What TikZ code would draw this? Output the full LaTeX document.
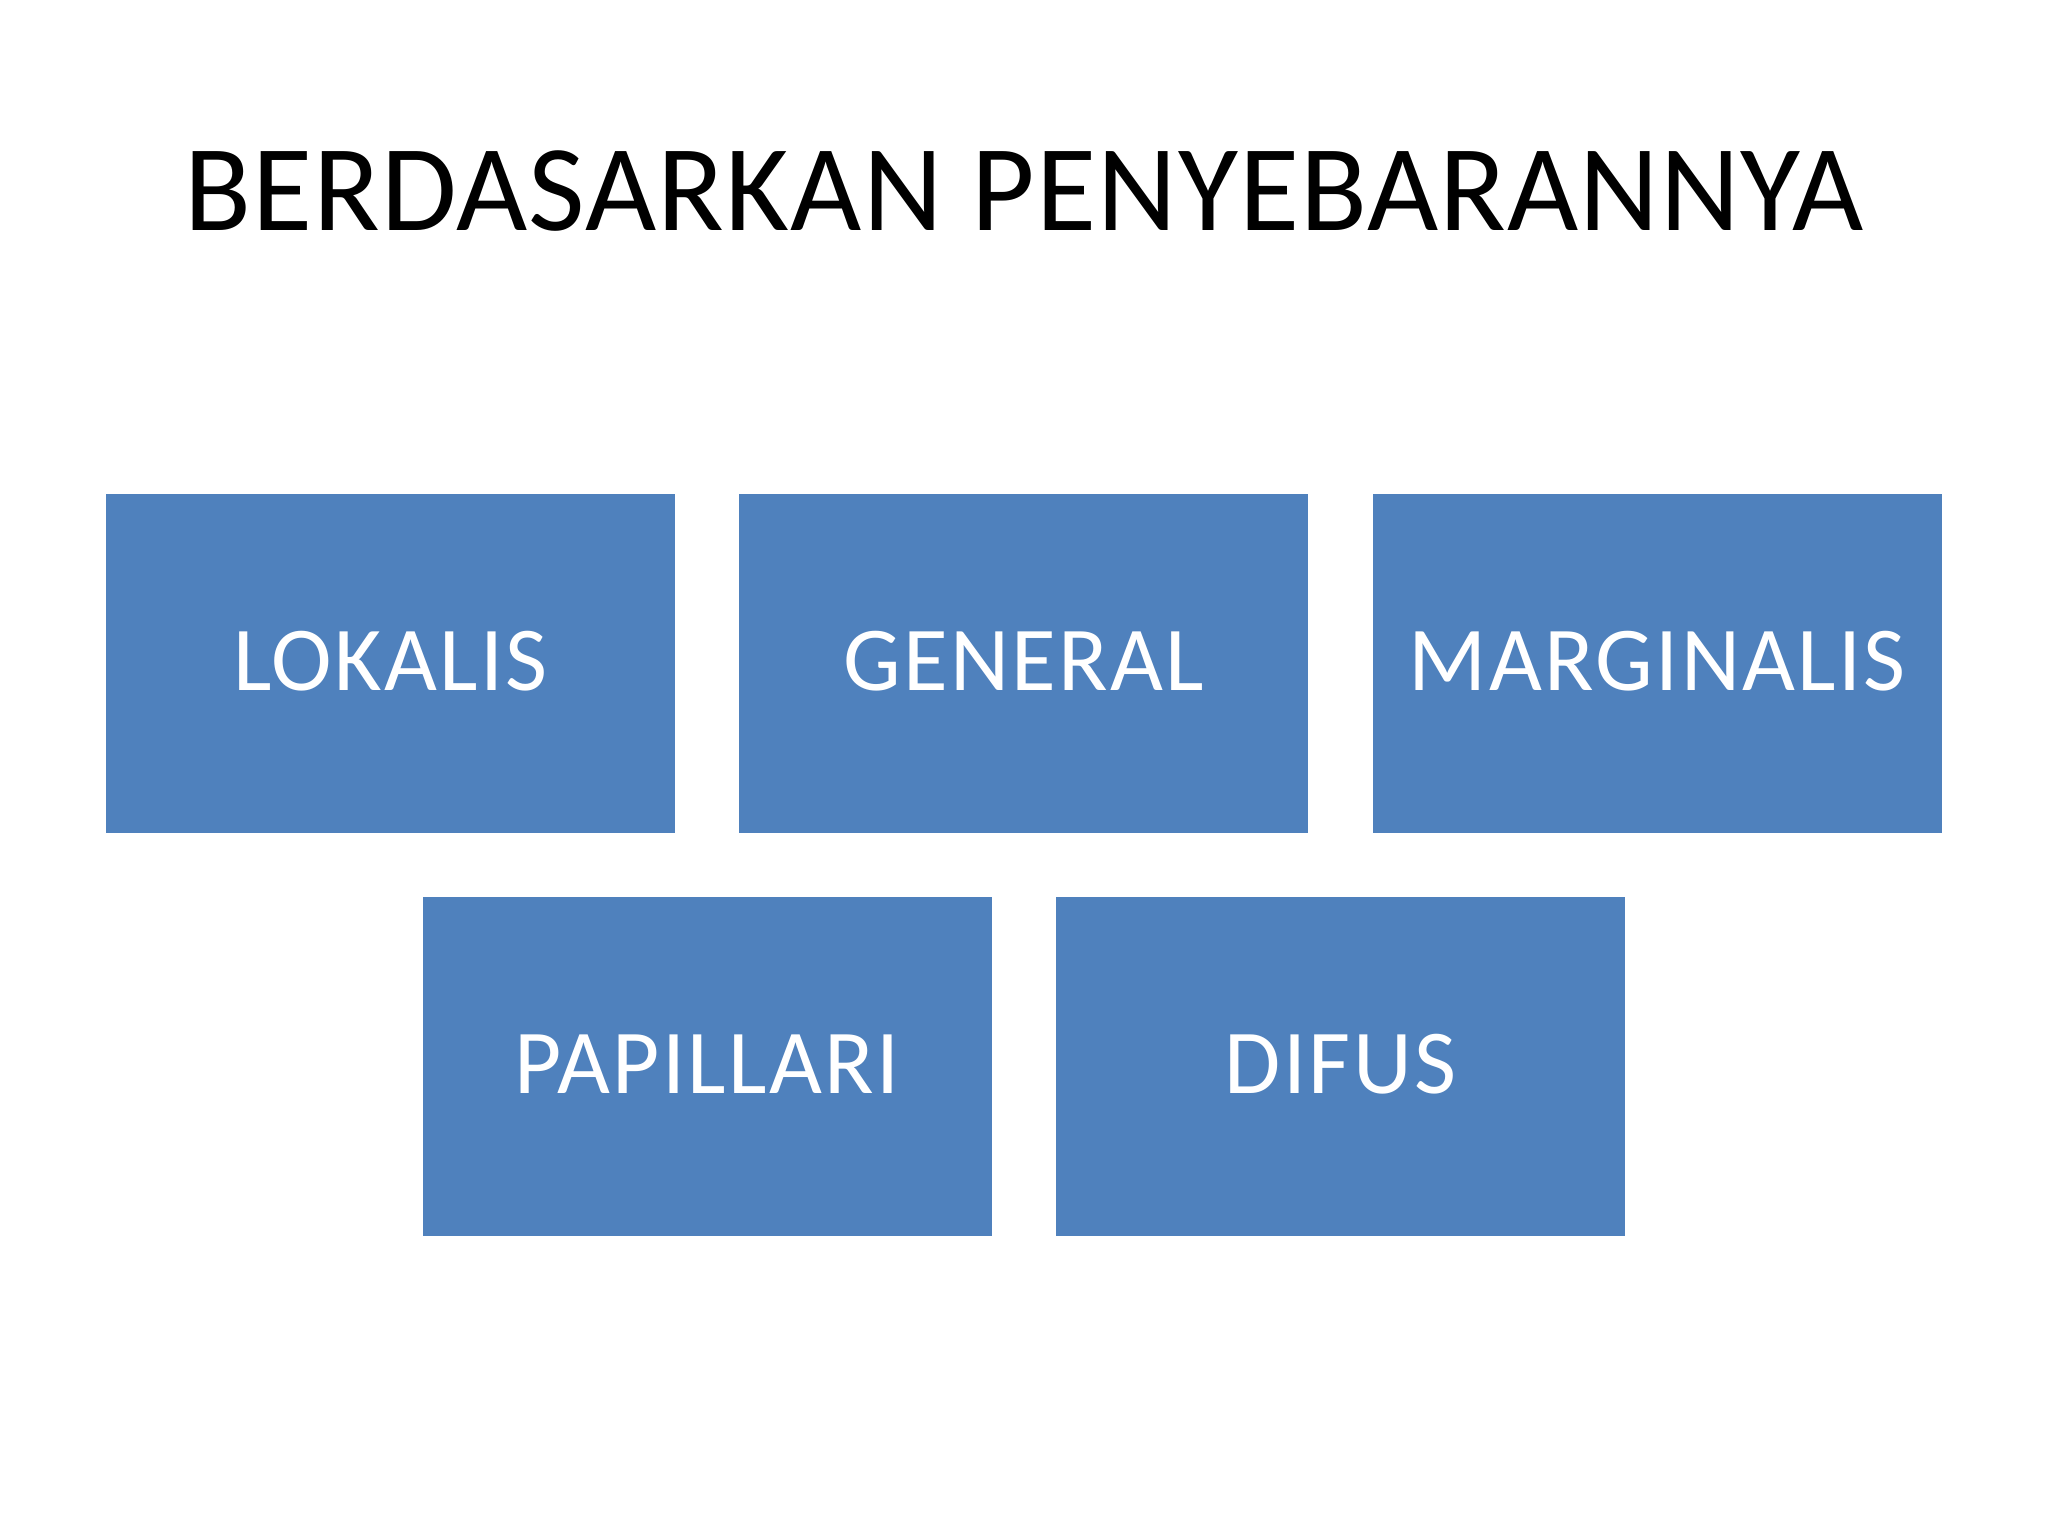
\documentclass[tikz,border=0pt]{standalone}
\usepackage{fontspec}
\setmainfont{Carlito}
\usepackage{tikz}
\definecolor{biruslide}{RGB}{79,129,189}
\tikzset{kotak/.style={fill=biruslide,draw=none,minimum width=5.69cm,minimum height=3.39cm,inner sep=0pt,text depth=0.52mm,text=white,font=\fontsize{26}{30}\selectfont\addfontfeature{LetterSpace=2.6}}}

\begin{document}
\begin{tikzpicture}
			\fill[white] (0.,0.) rectangle (20.48,15.36);
			\node[anchor=base,font=\fontsize{35}{40}\selectfont\addfontfeature{LetterSpace=0.9}] (judul) at (10.24,13.05) {BERDASARKAN PENYEBARANNYA};
				\node[kotak] (lokalis) at (3.905,8.725) {LOKALIS};
				\node[kotak] (general) at (10.239,8.725) {GENERAL};
				\node[kotak] (marginalis) at (16.573,8.725) {MARGINALIS};
				\node[kotak] (papillari) at (7.072,4.694) {PAPILLARI};
				\node[kotak] (difus) at (13.406,4.694) {DIFUS};
		\end{tikzpicture}
\end{document}
